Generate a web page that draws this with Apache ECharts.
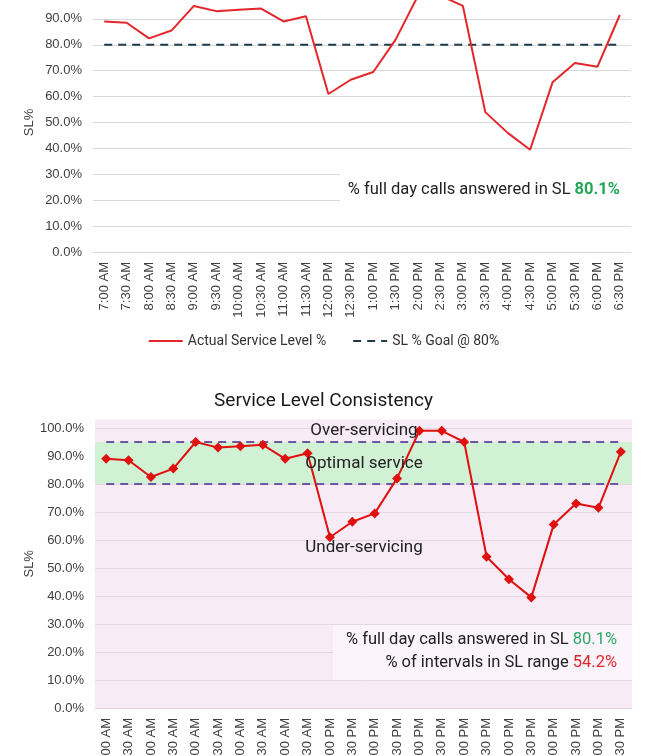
<!DOCTYPE html>
<html>
<head>
<meta charset="utf-8">
<script src="https://cdn.jsdelivr.net/npm/echarts@6/dist/echarts.min.js"></script>
<style>
  html, body { margin: 0; padding: 0; background: #ffffff; }
  #chart { width: 647px; height: 756px; }
</style>
</head>
<body>
<div id="chart"></div>
<script>
// Half-hour intervals of the day
const intervals = [
  "7:00 AM", "7:30 AM", "8:00 AM", "8:30 AM", "9:00 AM", "9:30 AM",
  "10:00 AM", "10:30 AM", "11:00 AM", "11:30 AM", "12:00 PM", "12:30 PM",
  "1:00 PM", "1:30 PM", "2:00 PM", "2:30 PM", "3:00 PM", "3:30 PM",
  "4:00 PM", "4:30 PM", "5:00 PM", "5:30 PM", "6:00 PM", "6:30 PM"
];

// Actual service level %
const actualSL = [
  89, 88.5, 82.5, 85.5, 95, 93, 93.5, 94, 89, 91, 61, 66.5,
  69.5, 82, 99, 99, 95, 54, 46, 39.5, 65.5, 73, 71.5, 91.5
];

const goalSL = [80, 80, 80, 80, 80, 80, 80, 80, 80, 80, 80, 80, 80, 80, 80, 80, 80, 80, 80, 80, 80, 80, 80, 80];
const upperSL = [95, 95, 95, 95, 95, 95, 95, 95, 95, 95, 95, 95, 95, 95, 95, 95, 95, 95, 95, 95, 95, 95, 95, 95];
const lowerSL = [80, 80, 80, 80, 80, 80, 80, 80, 80, 80, 80, 80, 80, 80, 80, 80, 80, 80, 80, 80, 80, 80, 80, 80];

const optimalBand = [80, 95];
const fullDayPct = "80.1%";
const intervalsInRangePct = "54.2%";

const tickFont = "Liberation Sans";
const textFont = "Roboto";

const chart = echarts.init(document.getElementById("chart"), null, { renderer: "canvas" });

function pctLabel(v) {
  return v > 100 ? "" : v.toFixed(1) + "%";
}

chart.setOption({
  animation: false,
  backgroundColor: "#ffffff",
  title: {
    text: "Service Level Consistency",
    left: "center",
    top: 387,
    textStyle: { fontFamily: textFont, fontSize: 19, fontWeight: 400, color: "#1a1a1a" }
  },
  legend: {
    data: ["Actual Service Level %", "SL % Goal @ 80%"],
    left: "center",
    top: 329,
    itemWidth: 34,
    itemHeight: 14,
    itemGap: 26,
    itemStyle: { opacity: 0 },
    textStyle: { fontFamily: textFont, fontSize: 14, color: "#333333" }
  },
  grid: [
    { left: 93, top: -7, width: 538, height: 259, outerBoundsMode: "none" },
    {
      left: 95, top: 419.6, width: 537, height: 288.4, outerBoundsMode: "none",
      show: true, backgroundColor: "#f7ebf5", borderWidth: 0
    }
  ],
  xAxis: [
    {
      gridIndex: 0,
      type: "category",
      data: intervals,
      axisTick: { show: false },
      axisLine: { lineStyle: { color: "#d9d9d9" } },
      axisLabel: { rotate: 90, margin: 10, interval: 0, fontFamily: tickFont, fontSize: 13, color: "#404040" }
    },
    {
      gridIndex: 1,
      type: "category",
      data: intervals,
      axisTick: { show: false },
      axisLine: { lineStyle: { color: "#e2d3df" } },
      axisLabel: { rotate: 90, margin: 10, interval: 0, fontFamily: tickFont, fontSize: 13, color: "#404040" }
    }
  ],
  yAxis: [
    {
      gridIndex: 0,
      type: "value",
      min: 0,
      max: 100,
      interval: 10,
      name: "SL%",
      nameLocation: "middle",
      nameGap: 57,
      nameMoveOverlap: false,
      nameTextStyle: { fontFamily: tickFont, fontSize: 13, color: "#404040" },
      axisLabel: { margin: 11, fontFamily: tickFont, fontSize: 13, color: "#404040", formatter: pctLabel },
      splitLine: { lineStyle: { color: "#d9d9d9", width: 1 } }
    },
    {
      gridIndex: 1,
      type: "value",
      min: 0,
      max: 103,
      interval: 10,
      name: "SL%",
      nameLocation: "middle",
      nameGap: 59,
      nameMoveOverlap: false,
      nameTextStyle: { fontFamily: tickFont, fontSize: 13, color: "#404040" },
      axisLabel: { margin: 11, showMaxLabel: false, fontFamily: tickFont, fontSize: 13, color: "#404040", formatter: pctLabel },
      splitLine: { showMaxLine: false, lineStyle: { color: "#e6d5e2", width: 1 } }
    }
  ],
  series: [
    {
      name: "Actual Service Level %",
      type: "line",
      xAxisIndex: 0,
      yAxisIndex: 0,
      data: actualSL,
      showSymbol: false,
      symbol: "none",
      color: "#e3262b",
      lineStyle: { color: "#e3262b", width: 2 },
      z: 4
    },
    {
      name: "SL % Goal @ 80%",
      type: "line",
      xAxisIndex: 0,
      yAxisIndex: 0,
      data: goalSL,
      showSymbol: false,
      symbol: "none",
      color: "#1f3b4d",
      lineStyle: { color: "#1f3b4d", width: 2, type: [8, 6] },
      z: 3
    },
    {
      name: "Upper limit",
      type: "line",
      xAxisIndex: 1,
      yAxisIndex: 1,
      data: upperSL,
      symbol: "none",
      lineStyle: { color: "#6c55a3", width: 2, type: [8, 6] },
      markArea: {
        silent: true,
        itemStyle: { color: "#d1f1d5" },
        data: [[{ yAxis: optimalBand[0] }, { yAxis: optimalBand[1] }]]
      },
      z: 3
    },
    {
      name: "Lower limit",
      type: "line",
      xAxisIndex: 1,
      yAxisIndex: 1,
      data: lowerSL,
      symbol: "none",
      lineStyle: { color: "#6c55a3", width: 2, type: [8, 6] },
      z: 3
    },
    {
      name: "Actual SL (consistency)",
      type: "line",
      xAxisIndex: 1,
      yAxisIndex: 1,
      data: actualSL,
      symbol: "diamond",
      symbolSize: 10,
      color: "#e0100f",
      itemStyle: { color: "#e0100f" },
      lineStyle: { color: "#e0100f", width: 2 },
      z: 5
    }
  ],
  graphic: [
    // top annotation box
    {
      type: "rect",
      z: 1,
      shape: { x: 340, y: 166, width: 292, height: 42 },
      style: { fill: "#ffffff" }
    },
    {
      type: "text",
      z: 10,
      style: {
        x: 620, y: 190,
        align: "right",
        verticalAlign: "middle",
        text: "{a|% full day calls answered in SL }{g|" + fullDayPct + "}",
        rich: {
          a: { fontFamily: textFont, fontSize: 16.5, fill: "#222222" },
          g: { fontFamily: textFont, fontSize: 16.5, fontWeight: 700, fill: "#22a657" }
        }
      }
    },
    // bottom annotation box
    {
      type: "rect",
      z: 1,
      shape: { x: 333, y: 625, width: 299, height: 55 },
      style: { fill: "#fbf4fa" }
    },
    {
      type: "text",
      z: 10,
      style: {
        x: 617, y: 640,
        align: "right",
        verticalAlign: "middle",
        text: "{a|% full day calls answered in SL }{g|" + fullDayPct + "}",
        rich: {
          a: { fontFamily: textFont, fontSize: 16.5, fill: "#222222" },
          g: { fontFamily: textFont, fontSize: 16.5, fill: "#2fa866" }
        }
      }
    },
    {
      type: "text",
      z: 10,
      style: {
        x: 617, y: 663,
        align: "right",
        verticalAlign: "middle",
        text: "{a|% of intervals in SL range }{r|" + intervalsInRangePct + "}",
        rich: {
          a: { fontFamily: textFont, fontSize: 16.5, fill: "#222222" },
          r: { fontFamily: textFont, fontSize: 16.5, fill: "#e3262b" }
        }
      }
    },
    // band labels
    {
      type: "text",
      z: 10,
      style: { x: 364, y: 431, align: "center", verticalAlign: "middle", text: "Over-servicing", fontFamily: textFont, fontSize: 17, fill: "#222222" }
    },
    {
      type: "text",
      z: 10,
      style: { x: 364, y: 464, align: "center", verticalAlign: "middle", text: "Optimal service", fontFamily: textFont, fontSize: 17, fill: "#222222" }
    },
    {
      type: "text",
      z: 10,
      style: { x: 364, y: 548, align: "center", verticalAlign: "middle", text: "Under-servicing", fontFamily: textFont, fontSize: 17, fill: "#222222" }
    }
  ]
});
</script>
</body>
</html>
